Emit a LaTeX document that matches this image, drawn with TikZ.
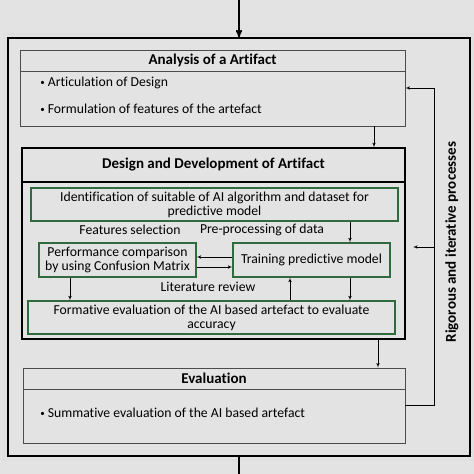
\documentclass[tikz,border=0pt]{standalone}
\usepackage{fontspec}
\setmainfont{Carlito}[Ligatures=NoCommon]
\usepackage{tikz}
\usetikzlibrary{arrows}
\definecolor{bggray}{HTML}{E3E3E3}
\definecolor{boxgreen}{HTML}{2F6B3C}
\newcommand{\smallbul}{\raisebox{1.5pt}{\fontsize{9}{9}\selectfont\textbullet}\ }
\tikzset{
  txt/.style = {inner sep=0pt, font=\fontsize{13.7}{14}\selectfont},
  phasehead/.style = {rectangle, draw=black!70, fill=bggray, inner sep=0pt,
    font=\fontsize{15}{16}\selectfont\bfseries, text centered},% titre de phase
  phasebody/.style = {rectangle, draw=black!70, fill=bggray, inner sep=0pt},% corps de phase
  stepbox/.style = {txt, rectangle, draw=boxgreen, line width=1.1pt,
    fill=bggray, align=center},% etape, cadre vert
  bulletitem/.style = {txt, anchor=west}% ligne a puce
}

\begin{document}
\begin{tikzpicture}[x=1pt,y=-1pt,->,>=latex',semithick]
\fill[bggray] (0,0) rectangle (474,474);
\useasboundingbox (0,0) rectangle (474,474);
\draw[-,white!75!gray,line width=1.5pt] (4,34) rectangle (473,460);
\node[draw=black,line width=1.4pt,minimum width=462pt,minimum height=418pt] (frame) at (239,247) {};
% analyse
\node[phasehead,minimum width=385pt,minimum height=21pt] (anahead) at (212.5,60.5) {Analysis of a Artifact};
\node[phasebody,minimum width=385pt,minimum height=55pt] (anabody) at (212.5,98.5) {};
\node[bulletitem] (ana1) at (40,83) {\smallbul Articulation of Design};
\node[bulletitem] (ana2) at (40,109) {\smallbul Formulation of features of the artefact};
% conception et developpement
\node[phasehead,draw=black,line width=1.4pt,minimum width=383pt,minimum height=34pt] (deshead) at (213.5,165) {Design and Development of Artifact};
\node[phasebody,draw=black,line width=1.4pt,minimum width=383pt,minimum height=157pt] (desbody) at (213.5,260.5) {};
\node[stepbox,minimum width=367pt,minimum height=33pt] (ident) at (214.5,204.5)
  {Identification of suitable of AI algorithm and dataset for\\predictive model};
\node[stepbox,minimum width=157pt,minimum height=34pt] (perf) at (117.5,260)
  {Performance comparison\\by using Confusion Matrix};
\node[stepbox,minimum width=157pt,minimum height=34pt] (train) at (311.5,260)
  {Training predictive model};
\node[stepbox,minimum width=367pt,minimum height=33pt] (formative) at (211.5,317.5)
  {Formative evaluation of the AI based artefact to evaluate\\accuracy};
\node[txt] (featsel) at (130,230) {Features selection};
\node[txt] (preproc) at (262,230) {Pre-processing of data};
\node[txt] (litrev) at (208,287) {Literature review};
% evaluation
\node[phasehead,minimum width=382pt,minimum height=21pt] (evalhead) at (214,378.5) {Evaluation};
\node[phasebody,minimum width=382pt,minimum height=54pt] (evalbody) at (214,416) {};
\node[bulletitem] (eval1) at (40,413) {\smallbul Summative evaluation of the AI based artefact};
% cote droit
\node[txt,font=\fontsize{15}{16}\selectfont\bfseries,rotate=90] (rigor) at (452,242) {Rigorous and iterative processes};
% colonnes des fleches
\coordinate (colA) at (350,0);
\coordinate (colB) at (290,0);
\coordinate (colC) at (70,0);
\coordinate (colD) at (374,0);
\coordinate (colE) at (378,0);
\coordinate (colR) at (434,0);
\coordinate (topin) at (239,0);
\coordinate (botout) at (239,474);
\coordinate (fbtop) at ([yshift=10.5pt]anabody.east);
\coordinate (fbbot) at ([yshift=11pt]evalbody.east);
\coordinate (fbmid) at (413,247);
% fleches
\draw[line width=1.5pt,>=stealth'] (topin) -- (frame.north);
\draw[-,line width=1.5pt] (frame.south) -- (botout);
\draw (anabody.south -| colD) -- (deshead.north -| colD);
\draw (desbody.south -| colE) -- (evalhead.north -| colE);
\draw (ident.south -| colA) -- (train.north -| colA);
\draw ([yshift=3pt]train.west) -- ([yshift=3pt]perf.east);
\draw ([yshift=-7pt]perf.east) -- ([yshift=-7pt]train.west);
\draw (perf.south -| colC) -- (formative.north -| colC);
\draw (formative.north -| colB) -- (train.south -| colB);
\draw (train.south -| colA) -- (formative.north -| colA);
\draw (fbbot) -| (fbtop -| colR) -- (fbtop);
\draw (fbmid -| colR) -- (fbmid);
\end{tikzpicture}
\end{document}
